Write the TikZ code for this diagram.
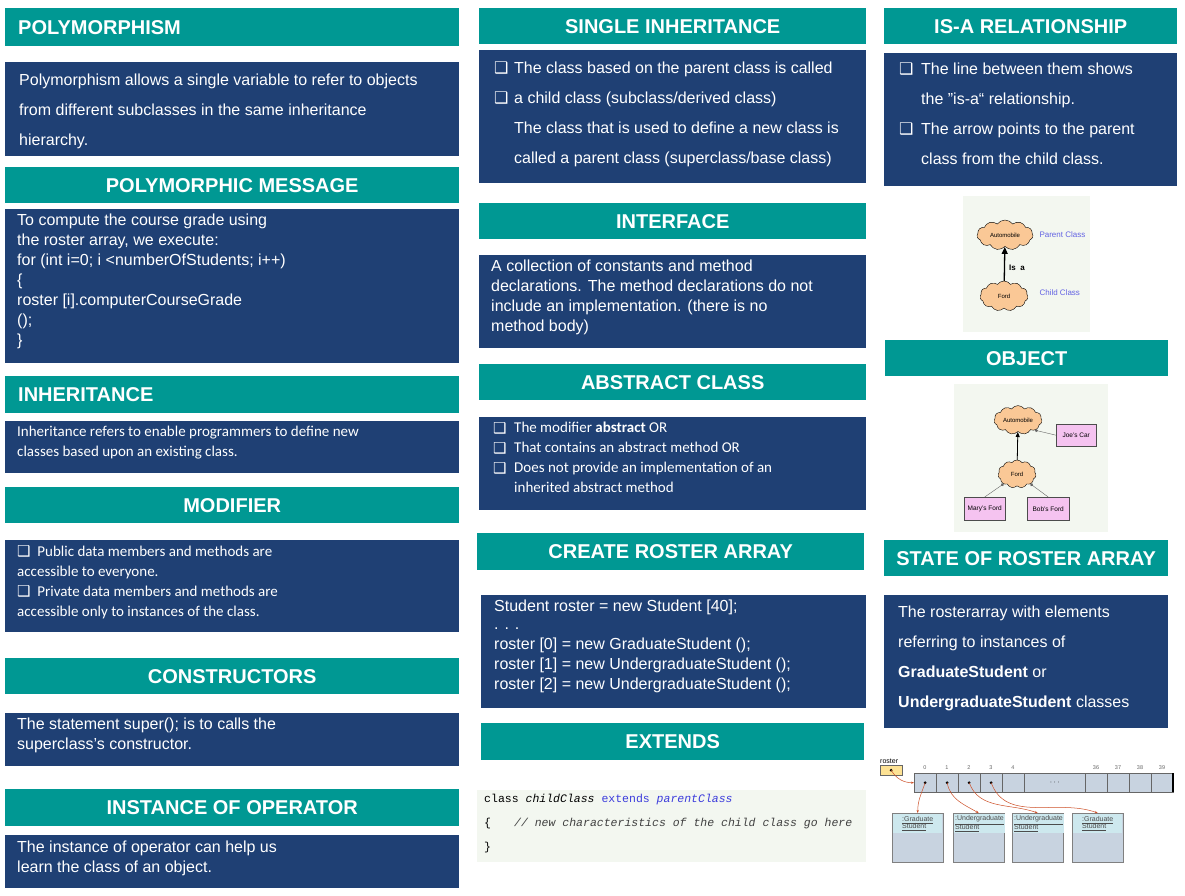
\documentclass[tikz,border=0pt]{standalone}
\usepackage{fontspec}
\setmainfont{Liberation Sans}
\newfontfamily\cbfont{DejaVu Sans}
\newfontfamily\carl{Carlito}
\setmonofont{Liberation Mono}
\usetikzlibrary{shapes.symbols,arrows.meta}
\definecolor{tealh}{RGB}{0,152,147}
\definecolor{navyb}{RGB}{31,64,116}
\definecolor{peach}{RGB}{250,200,150}
\definecolor{pinkb}{RGB}{245,195,240}
\definecolor{imgbg}{RGB}{243,247,240}
\definecolor{cellb}{RGB}{200,211,224}
\definecolor{celltop}{RGB}{205,232,238}
\definecolor{redar}{RGB}{205,80,40}
\definecolor{kwblue}{RGB}{60,60,220}
\newcommand\cb{{\cbfont\char"2751}}
\tikzset{
 hd/.style={fill=tealh,text=white,font=\fontsize{20}{24}\selectfont\bfseries,anchor=north west,inner sep=0pt},
 bx/.style={fill=navyb,anchor=north west,inner sep=0pt},
 tx/.style={text=white,anchor=north west,inner sep=0pt,align=left},
 t16/.style={tx,font=\fontsize{16}{20}\selectfont},
 t16w/.style={tx,font=\fontsize{16}{30}\selectfont},
 t14/.style={tx,font=\carl\fontsize{15}{20}\selectfont},
 cld/.style={cloud,cloud puffs=11,cloud puff arc=110,draw=black,fill=peach,inner sep=0pt,font=\fontsize{6}{7}\selectfont,aspect=1.8},
 pk/.style={draw=black!70,fill=pinkb,font=\fontsize{6.5}{8}\selectfont,inner sep=0pt,anchor=north west},
 cell/.style={draw=black!60,fill=cellb,anchor=north west,inner sep=0pt,minimum height=19pt},
 ob/.style={draw=black!50,fill=cellb,anchor=north west,inner sep=0pt,minimum width=51pt,minimum height=49pt},
 obt/.style={fill=celltop,anchor=north west,inner sep=1pt,font=\fontsize{7}{7.5}\selectfont\rmfamily,align=left,text=black!70,minimum width=49pt,minimum height=19pt},
 ra/.style={redar,-{Stealth[length=3pt]},line width=0.5pt},
}
\begin{document}
\begin{tikzpicture}[x=1pt,y=-1pt]
\useasboundingbox (0,0) rectangle (1185,895);
\fill[white] (0,0) rectangle (1185,895);
% ---------- column 1
\node[hd,minimum width=454,minimum height=38,text width=428,align=left,inner xsep=13pt] (h1) at (5,8) {POLYMORPHISM};
\node[bx,minimum width=454,minimum height=94] (b1) at (5,62) {};
\node[t16w] (x1) at (19,74) {Polymorphism allows a single variable to refer to objects\\from different subclasses in the same inheritance\\hierarchy.};
\node[hd,minimum width=454,minimum height=36] (h2) at (5,167) {POLYMORPHIC MESSAGE};
\node[bx,minimum width=454,minimum height=154] (b2) at (5,209) {};
\node[t16] (x2) at (17,214) {To compute the course grade using\\the roster array, we execute:\\for (int i=0; i {\textless}numberOfStudents; i++)\\\{\\roster [i].computerCourseGrade\\();\\\}};
\node[hd,minimum width=454,minimum height=37,text width=428,align=left,inner xsep=13pt] (h3) at (5,376) {INHERITANCE};
\node[bx,minimum width=454,minimum height=52] (b3) at (5,421) {};
\node[t14] (x3) at (17,426) {Inheritance refers to enable programmers to define new\\classes based upon an existing class.};
\node[hd,minimum width=454,minimum height=36] (h4) at (5,487) {MODIFIER};
\node[bx,minimum width=454,minimum height=92] (b4) at (5,540) {};
\node[t14] (x4) at (17,545) {\cb\ \ Public data members and methods are\\accessible to everyone.\\\cb\ \ Private data members and methods are\\accessible only to instances of the class.};
\node[hd,minimum width=454,minimum height=36] (h5) at (5,658) {CONSTRUCTORS};
\node[bx,minimum width=454,minimum height=53] (b5) at (5,713) {};
\node[t16] (x5) at (17,718) {The statement super(); is to calls the\\superclass's constructor.};
\node[hd,minimum width=454,minimum height=37] (h6) at (5,789) {INSTANCE OF OPERATOR};
\node[bx,minimum width=454,minimum height=53] (b6) at (5,835) {};
\node[t16] (x6) at (17,841) {The instance of operator can help us\\learn the class of an object.};
% ---------- column 2
\node[hd,minimum width=387,minimum height=36] (h7) at (479,8) {SINGLE INHERITANCE};
\node[bx,minimum width=387,minimum height=133] (b7) at (479,50) {};
\node[t16w] (c7a) at (494,62) {\cb\\\cb};
\node[t16w] (x7) at (514,62) {The class based on the parent class is called\\a child class (subclass/derived class)\\The class that is used to define a new class is\\called a parent class (superclass/base class)};
\node[hd,minimum width=387,minimum height=36] (h8) at (479,203) {INTERFACE};
\node[bx,minimum width=387,minimum height=93] (b8) at (479,255) {};
\node[t16] (x8) at (491,260) {A collection of constants and method\\declarations. The method declarations do not\\include an implementation. (there is no\\method body)};
\node[hd,minimum width=387,minimum height=36] (h9) at (479,364) {ABSTRACT CLASS};
\node[bx,minimum width=387,minimum height=93] (b9) at (479,417) {};
\node[t14] (c9) at (493,422) {\cb\\\cb\\\cb};
\node[t14] (x9) at (514,422) {The modifier \textbf{abstract} OR\\That contains an abstract method OR\\Does not provide an implementation of an\\inherited abstract method};
\node[hd,minimum width=387,minimum height=37] (h10) at (477,533) {CREATE ROSTER ARRAY};
\node[bx,minimum width=385,minimum height=113] (b10) at (481,595) {};
\node[t16] (x10) at (494,600) {Student roster = new Student [40];\\[-2pt]. . .\\roster [0] = new GraduateStudent ();\\roster [1] = new UndergraduateStudent ();\\roster [2] = new UndergraduateStudent ();};
\node[hd,minimum width=383,minimum height=37] (h11) at (481,723) {EXTENDS};
\node[fill=imgbg,anchor=north west,minimum width=389,minimum height=72,inner sep=0pt] (b11) at (477,790) {};
\node[tx,text=black,font=\ttfamily\fontsize{11.5}{24}\selectfont] (x11) at (484,794) {class \textit{childClass} \textcolor{kwblue}{extends} \textcolor{kwblue}{\textit{parentClass}}\\\{\hspace{2em}\textit{\textcolor{black!75}{// new characteristics of the child class go here}}\\\}};
% ---------- column 3
\node[hd,minimum width=293,minimum height=36] (h12) at (884,8) {IS-A RELATIONSHIP};
\node[bx,minimum width=293,minimum height=133] (b12) at (884,53) {};
\node[t16w] (c12) at (899,63) {\cb\\\\\cb};
\node[t16w] (x12) at (921,63) {The line between them shows\\the "is-a“ relationship.\\The arrow points to the parent\\class from the child class.};
% is-a image
\node[fill=imgbg,anchor=north west,minimum width=127,minimum height=136,inner sep=0pt] (i1) at (963,196) {};
\node[cld,minimum width=56,minimum height=30] (au1) at (1005,235) {Automobile};
\node[cld,minimum width=48,minimum height=30] (fo1) at (1004,296) {Ford};
\draw[-{Triangle[length=7pt,width=6pt]},line width=1.3pt] (fo1) -- (au1);
\node[font=\fontsize{8}{9}\selectfont\bfseries] (isa) at (1017,268) {Is\ \ a};
\node[font=\fontsize{8}{9}\selectfont,text=kwblue!80,anchor=west] (pc) at (1036,235) {Parent Class};
\node[font=\fontsize{8}{9}\selectfont,text=kwblue!80,anchor=west] (cc) at (1036,293) {Child Class};
\node[hd,minimum width=283,minimum height=36] (h13) at (885,340) {OBJECT};
\node[fill=imgbg,anchor=north west,minimum width=154,minimum height=148,inner sep=0pt] (i2) at (954,384) {};
\node[cld,minimum width=48,minimum height=28] (au2) at (1018,420) {Automobile};
\node[pk,minimum width=40,minimum height=22] (jc) at (1056,424) {Joe's Car};
\node[cld,minimum width=38,minimum height=28] (fo2) at (1017,474) {Ford};
\node[pk,minimum width=41,minimum height=23] (mf) at (964,497) {Mary's Ford};
\node[pk,minimum width=42,minimum height=23] (bf) at (1027,497) {Bob's Ford};
\draw[-{Triangle[length=5pt,width=4pt]},line width=0.8pt] (fo2) -- (au2);
\draw[black!60,{Circle[length=3pt]}-] (au2.south east) -- (jc.west);
\draw[black!60,{Circle[length=3pt]}-] (fo2.south west) -- (mf.north);
\draw[black!60,{Circle[length=3pt]}-] (fo2.south east) -- (bf.north);
\node[hd,minimum width=284,minimum height=36] (h14) at (884,540) {STATE OF ROSTER ARRAY};
\node[bx,minimum width=284,minimum height=133] (b14) at (884,595) {};
\node[t16w] (x14) at (898,606) {The rosterarray with elements\\referring to instances of\\\textbf{GraduateStudent} or\\\textbf{UndergraduateStudent} classes};
% roster figure
\node[anchor=south west,inner sep=0pt,font=\rmfamily\fontsize{7}{7}\selectfont] (rl) at (880,764) {roster};
\node[draw=black!60,fill=yellow!50!orange!40,anchor=north west,minimum width=22,minimum height=10,inner sep=0pt] (rb) at (880,765) {};
\fill (rb.center) circle (1.5pt);
\foreach \i/\x/\w/\lab in {0/914/22/0,1/936/22/1,2/958/22/2,3/980/22/3,4/1002/22/4,5/1024/61/,6/1085/22/36,7/1107/22/37,8/1129/22/38,9/1151/22/39}{
  \node[cell,minimum width=\w] (c\i) at (\x,773) {};
  \node[font=\rmfamily\fontsize{5.5}{6}\selectfont,text=black!60] (l\i) at (\x+\w/2,768) {\lab};
}
\node[font=\bfseries\fontsize{8}{8}\selectfont] (dots) at (c5.center) {$\cdots$};
\draw[line width=1.2pt] (1173,773) -- (1173,792);
\foreach \i in {0,1,2,3}{ \fill (c\i.center) circle (1.5pt); }
\foreach \i/\x/\a/\b in {0/892/:Graduate/Student,1/953/:Undergraduate/Student,2/1012/:Undergraduate/Student,3/1072/:Graduate/Student}{
  \node[ob] (o\i) at (\x,813) {};
  \node[obt] (ot\i) at (\x+1,814) {\underline{\a}\\[-1pt]\underline{\b}};
}
\draw[ra] (rb.center) to[out=-60,in=180] (c0.west);
\draw[ra] (c0.center) to[out=-110,in=90] (o0.north);
\draw[ra] (c1.center) to[out=-80,in=150] (o1.north);
\draw[ra] (c2.center) to[out=-70,in=160] (o2.north);
\draw[ra] (c3.center) to[out=-70,in=160] (o3.north);
\end{tikzpicture}
\end{document}
